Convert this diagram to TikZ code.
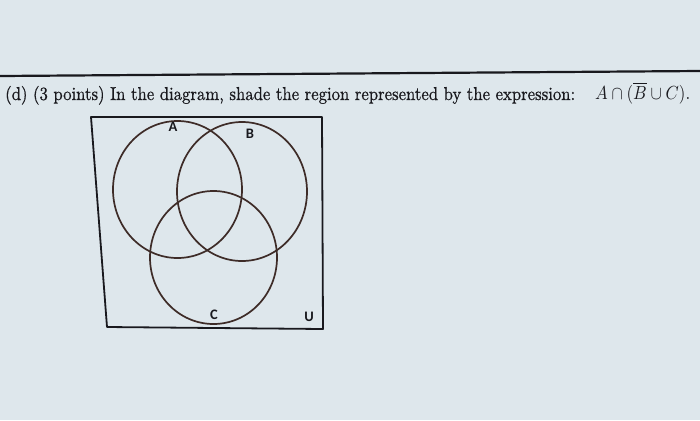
\documentclass[tikz,border=0pt]{standalone}
\usepackage{fontspec}
\newfontfamily\labelfont{Carlito}
\newfontfamily\qfont{lmroman10-regular.otf}[FakeBold=0.7]
\usepackage{graphicx}
\usetikzlibrary{shapes.geometric}
\definecolor{bgcol}{RGB}{222,231,236}
\definecolor{ringcol}{RGB}{62,44,40}
\definecolor{inkcol}{RGB}{25,25,30}
\begin{document}
\begin{tikzpicture}[x=1bp,y=-1bp,
  ring/.style={draw=ringcol,line width=1.7bp,ellipse,inner sep=0pt},
  setlabel/.style={font=\labelfont\bfseries\fontsize{14.5bp}{15bp}\selectfont,text=inkcol,inner sep=0pt}]
\useasboundingbox (0,0) rectangle (700,420);
\fill[bgcol] (0,0) rectangle (700,420);
\coordinate (rl) at (0,76);
\coordinate (rr) at (700,71);
\draw[inkcol,line width=2.2bp] (rl) -- (rr);
\node[anchor=base west,inner sep=0pt,text=inkcol] (q) at (5,100)
  {\scalebox{1}[1.12]{\resizebox{570bp}{!}{\qfont (d) (3 points) In the diagram, shade the region represented by the expression:}}};
\node[anchor=base west,inner sep=0pt,text=inkcol] (ex) at (595,99)
  {\scalebox{1}[1.12]{\resizebox{95bp}{!}{$A\cap(\overline{B}\cup C)$.}}};
\coordinate (u1) at (91,117);
\coordinate (u2) at (322,117);
\coordinate (u3) at (323,329);
\coordinate (u4) at (107,327);
\draw[inkcol,line width=1.8bp,line join=round] (u1) -- (u2) -- (u3) -- (u4) -- cycle;
\node[ring,minimum width=129bp,minimum height=137bp] (A) at (177.5,189.5) {};
\node[ring,minimum width=130bp,minimum height=139bp] (B) at (242,191.5) {};
\node[ring,minimum width=127bp,minimum height=133bp] (C) at (213.5,257.5) {};
\node[setlabel] (la) at (173,127) {A};
\node[setlabel] (lb) at (250,134) {B};
\node[setlabel] (lc) at (214,315) {C};
\node[setlabel] (lu) at (309,317) {U};
\end{tikzpicture}
\end{document}
